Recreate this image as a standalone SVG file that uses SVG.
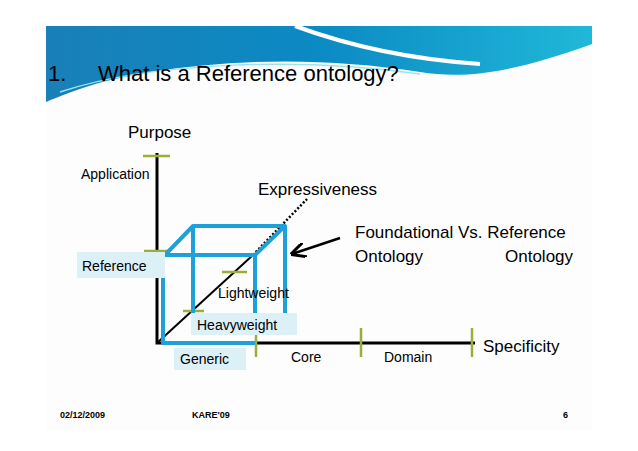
<svg xmlns="http://www.w3.org/2000/svg" width="638" height="451" viewBox="0 0 638 451">
<style>
text{font-family:"Liberation Sans",Arial,sans-serif;fill:#000}
.ax{stroke:#000;stroke-width:3;fill:none}
.tk{stroke:#9aaf3a;stroke-width:2.5}
.cb{stroke:#1ea0d8;stroke-width:4;fill:none;stroke-linejoin:round}
.lb{fill:#dcf0f8}
.f{font-size:9px;font-weight:bold}
</style>
<defs>
<linearGradient id="g" x1="0" y1="0" x2="1" y2="0"><stop offset="0" stop-color="#1a7fb8"/><stop offset="0.5" stop-color="#0b8ac4"/><stop offset="1" stop-color="#20b8d8"/></linearGradient>
<marker id="ar" viewBox="0 0 10 10" refX="9" refY="5" markerWidth="6" markerHeight="6" orient="auto"><path d="M0,0 L10,5 L0,10" fill="none" stroke="#000" stroke-width="2"/></marker>
</defs>
<rect width="638" height="451" fill="#fff"/>
<rect x="46" y="26" width="546" height="404" fill="#fdfdfd"/>
<g id="header">
<path d="M46,26 H592 V44 C520,70 470,80 420,72 C330,58 240,58 150,72 C100,80 70,92 46,102 Z" fill="url(#g)"/>
<path d="M295,26 C360,50 420,60 480,64" stroke="#fff" stroke-width="4" fill="none"/>
<path d="M60,92 C150,62 300,57 420,74" stroke="#9fe3ef" stroke-width="1.5" fill="none"/>
<text x="48" y="81" font-size="22">1.</text><text x="98" y="81" font-size="22">What is a Reference ontology?</text>
</g>
<g id="axes">
<path class="ax" d="M157,153 V343 H475"/>
<path d="M157,343 L253,255" stroke="#000" stroke-width="2"/>
<path d="M253,255 L307,199" stroke="#000" stroke-width="2.5" stroke-dasharray="2,2"/>
<path class="tk" d="M143,156 H170 M144,251 H170 M222,272 H247 M183,311 H204 M256,330 V357 M361,328 V357 M472,328 V357"/>
</g>
<g id="cube">
<path class="cb" d="M165,255 H255 V313 M165,255 L193,226 H285 V313 M255,255 L285,226 M193,226 V313 M163,275 V343 H255"/>
</g>
<g id="connectors">
<path d="M340,238 L292,254" stroke="#000" stroke-width="2.5" marker-end="url(#ar)"/>
</g>
<g id="labels">
<rect class="lb" x="77" y="252" width="88" height="26"/>
<rect class="lb" x="191" y="313" width="106" height="22"/>
<rect class="lb" x="174" y="348" width="72" height="22"/>
<text x="128" y="138" font-size="17">Purpose</text>
<text x="81" y="179" font-size="14">Application</text>
<text x="258" y="195" font-size="17">Expressiveness</text>
<text x="355" y="238" font-size="17">Foundational  Vs. Reference</text>
<text x="355" y="262" font-size="17">Ontology</text>
<text x="505" y="262" font-size="17">Ontology</text>
<text x="82" y="271" font-size="14">Reference</text>
<text x="218" y="298" font-size="14">Lightweight</text>
<text x="197" y="330" font-size="14">Heavyweight</text>
<text x="180" y="364" font-size="14">Generic</text>
<text x="291" y="362" font-size="14">Core</text>
<text x="384" y="362" font-size="14">Domain</text>
<text x="483" y="352" font-size="17">Specificity</text>
</g>
<g id="footer">
<text class="f" x="60" y="418">02/12/2009</text>
<text class="f" x="192" y="418">KARE'09</text>
<text class="f" x="563" y="418">6</text>
</g>
</svg>
